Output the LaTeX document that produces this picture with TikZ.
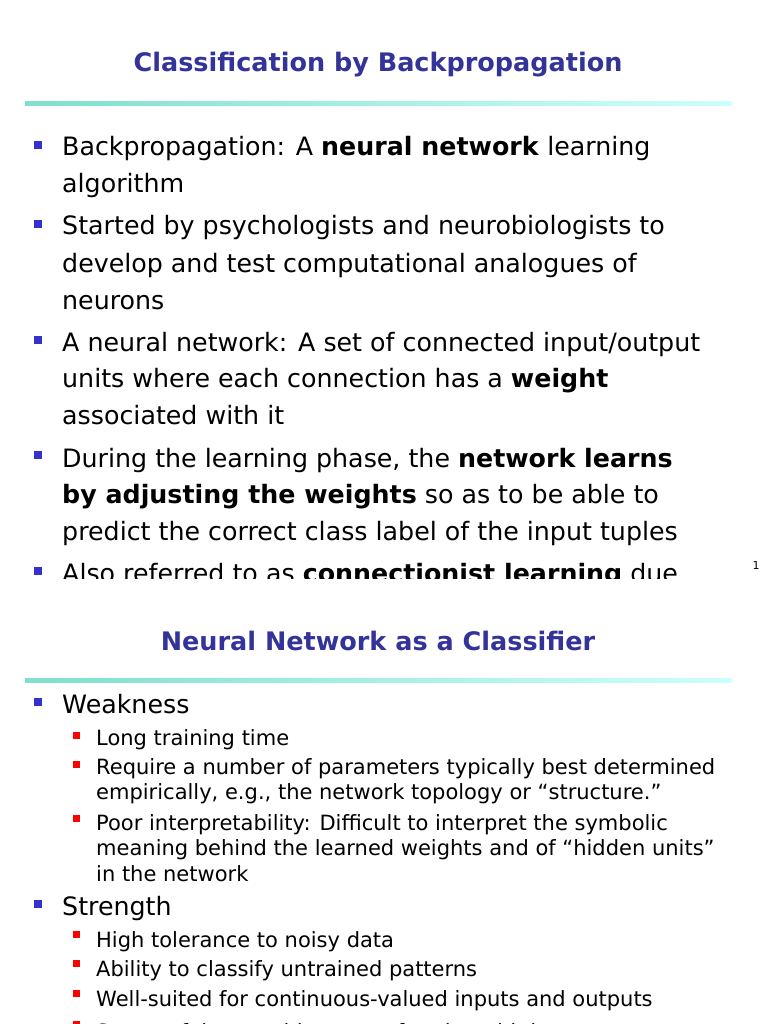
\documentclass[tikz,border=0pt]{standalone}
\usepackage{fontspec}
\setmainfont{DejaVu Sans}
\definecolor{ttl}{HTML}{333399}
\definecolor{bblue}{HTML}{3333CC}
\definecolor{lna}{HTML}{7FE0CC}
\definecolor{lnb}{HTML}{CCFFFF}
\begin{document}
\begin{tikzpicture}[x=1pt,y=-1pt,
  title/.style={font=\fontsize{25.5}{28}\selectfont\bfseries, text=ttl, anchor=center, inner sep=0},
  big/.style={font=\fontsize{25.3}{28}\selectfont, anchor=base west, inner sep=0},
  small/.style={font=\fontsize{21}{23}\selectfont, anchor=base west, inner sep=0},
  bsq/.style={fill=bblue, minimum size=8pt, inner sep=0},
  rsq/.style={fill=red, minimum size=7pt, inner sep=0}]
\useasboundingbox (0,0) rectangle (768,1024);
% slide 1
\begin{scope}
\clip (0,0) rectangle (768,578);
\node[title] (t1) at (378,65) {Classification by Backpropagation};
\shade[left color=lna, right color=lnb] (25,102) rectangle (732,106);
\foreach \y in {145,224,340,455,571} \node[bsq] at (38,\y) {};
\node[big] (a1) at (62,156) {Backpropagation: A \textbf{neural network} learning};
\node[big] (a2) at (62,193) {algorithm};
\node[big] (b1) at (62,235) {Started by psychologists and neurobiologists to};
\node[big] (b2) at (62,272) {develop and test computational analogues of};
\node[big] (b3) at (62,309) {neurons};
\node[big] (c1) at (62,351) {A neural network: A set of connected input/output};
\node[big] (c2) at (62,387) {units where each connection has a \textbf{weight}};
\node[big] (c3) at (62,424) {associated with it};
\node[big] (d1) at (62,467) {During the learning phase, the \textbf{network learns}};
\node[big] (d2) at (62,503) {\textbf{by adjusting the weights} so as to be able to};
\node[big] (d3) at (62,540) {predict the correct class label of the input tuples};
\node[big] (e1) at (62,582) {Also referred to as \textbf{connectionist learning} due};
\end{scope}
\node[font=\fontsize{11}{13}\selectfont, inner sep=0] (pg) at (756,565) {1};
% slide 2
\node[title] (t2) at (378,641) {Neural Network as a Classifier};
\shade[left color=lna, right color=lnb] (25,678) rectangle (732,682);
\node[bsq] at (38,702) {};
\node[big] (w) at (62,713) {Weakness};
\foreach \y in {735,764,818,934,963,993,1024} \node[rsq] at (76,\y) {};
\node[small] (w1) at (96,745) {Long training time};
\node[small] (w2) at (96,774) {Require a number of parameters typically best determined};
\node[small] (w2b) at (96,799) {empirically, e.g., the network topology or “structure.”};
\node[small] (w3) at (96,830) {Poor interpretability: Difficult to interpret the symbolic};
\node[small] (w3b) at (96,855) {meaning behind the learned weights and of “hidden units”};
\node[small] (w3c) at (96,881) {in the network};
\node[bsq] at (38,904) {};
\node[big] (s) at (62,915) {Strength};
\node[small] (s1) at (96,947) {High tolerance to noisy data};
\node[small] (s2) at (96,976) {Ability to classify untrained patterns};
\node[small] (s3) at (96,1006) {Well-suited for continuous-valued inputs and outputs};
\begin{scope}
\clip (0,0) rectangle (768,1024);
\node[small] (s4) at (96,1039) {Successful on a wide array of real-world data};
\end{scope}
\end{tikzpicture}
\end{document}
